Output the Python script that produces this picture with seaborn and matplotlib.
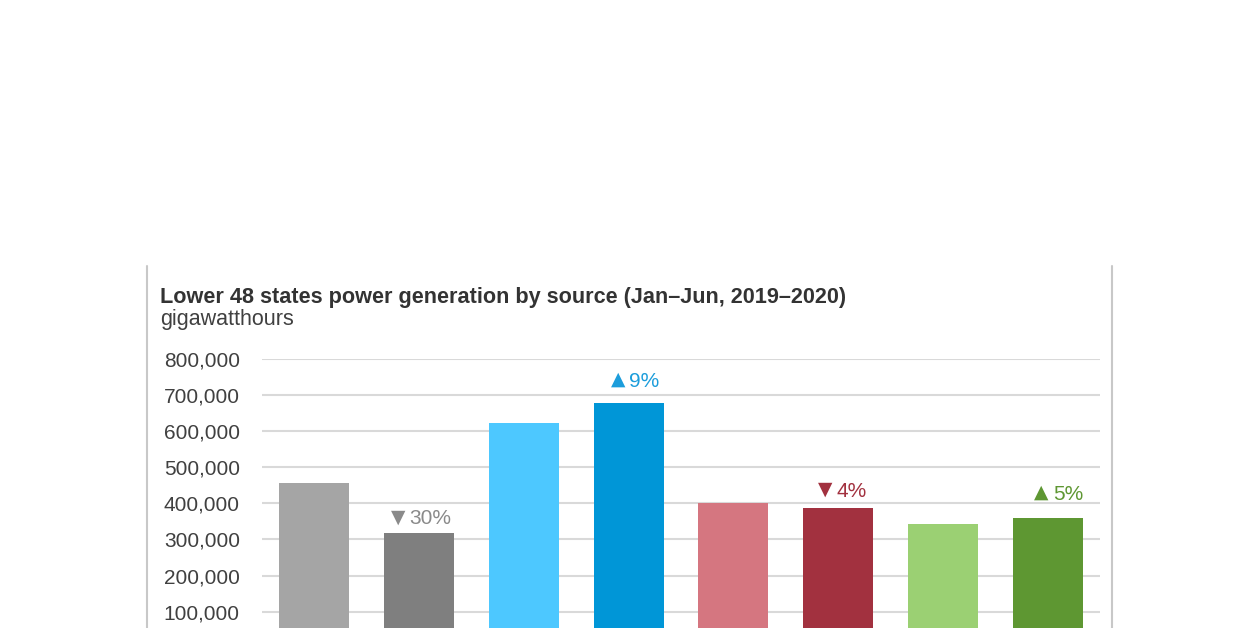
import numpy as np
import pandas as pd
import matplotlib
matplotlib.use('Agg')
import matplotlib.pyplot as plt
from matplotlib.lines import Line2D
from matplotlib.ticker import FuncFormatter
import seaborn as sns

# data (gigawatthours, Jan-Jun)
sources = ['Coal', 'Coal', 'Natural gas', 'Natural gas', 'Nuclear', 'Nuclear', 'Renewables', 'Renewables']
years = ['2019', '2020', '2019', '2020', '2019', '2020', '2019', '2020']
generation = [457000, 319000, 623000, 679000, 401000, 386000, 343000, 359000]
bar_colors = ['#a5a5a5', '#7f7f7f', '#4dc8ff', '#0096d7', '#d57680', '#a2313f', '#9bd073', '#5e9732']

change_arrows = ['\u25bc', '\u25b2', '\u25bc', '\u25b2']
change_pct = ['30%', '9%', '4%', '5%']
change_bars = [1, 3, 5, 7]
change_colors = ['#8a8a8a', '#1c9ddb', '#a2313f', '#5e9732']
# label placement tweaks (points): split between arrow and number, height above bar
change_dx = [-8.6, -1.1, -2.5, 2.2]
change_dy = [6, 11.5, 8.5, 13]

df = pd.DataFrame({'source': sources, 'year': years, 'gwh': generation})
df['bar'] = df['source'] + ' ' + df['year']

sns.set_style('white')
plt.rcParams['font.family'] = ['Liberation Sans', 'DejaVu Sans']

fig = plt.figure(figsize=(12.6, 6.28), dpi=100)
ax = fig.add_axes([262 / 1260, (628 - 647.7) / 628, 838 / 1260, (647.7 - 359) / 628])

sns.barplot(data=df, x='bar', y='gwh', hue='bar', palette=bar_colors,
            legend=False, width=0.667, linewidth=0, saturation=1, ax=ax)

ax.set_ylim(0, 800000)
ax.set_xlim(-0.5, 7.5)
ax.set_yticks(np.arange(100000, 800001, 100000))
ax.yaxis.set_major_formatter(FuncFormatter(lambda v, p: f'{int(v):,}'))
ax.tick_params(axis='y', length=0, pad=16, labelsize=15, labelcolor='#404040')
ax.tick_params(axis='x', length=0, labelbottom=False)
ax.set_xlabel('')
ax.set_ylabel('')
ax.grid(axis='y', color='#d9d9d9', linewidth=1.5)
ax.set_axisbelow(True)
for s in ax.spines.values():
    s.set_visible(False)

for arr, pct, b, c, dx, dy in zip(change_arrows, change_pct, change_bars, change_colors, change_dx, change_dy):
    ax.annotate(arr, (b, generation[b]), xytext=(dx - 1.5, dy + 1.5), textcoords='offset points',
                ha='right', va='baseline', fontsize=13.5, color=c, family='DejaVu Sans')
    ax.annotate(pct, (b, generation[b]), xytext=(dx + 1.5, dy), textcoords='offset points',
                ha='left', va='baseline', fontsize=15, color=c)

fig.text(160 / 1260, (628 - 303) / 628,
         'Lower 48 states power generation by source (Jan\u2013Jun, 2019\u20132020)',
         fontsize=15.6, fontweight='bold', color='#333333', va='baseline')
fig.text(160 / 1260, (628 - 325.5) / 628, 'gigawatthours',
         fontsize=15.5, color='#404040', va='baseline')

# panel border lines
for xp in (147, 1112):
    fig.add_artist(Line2D([xp / 1260, xp / 1260], [0, (628 - 266) / 628],
                          transform=fig.transFigure, color='#c8c8c8', linewidth=1.5))

fig.savefig('out.png', dpi=100)
